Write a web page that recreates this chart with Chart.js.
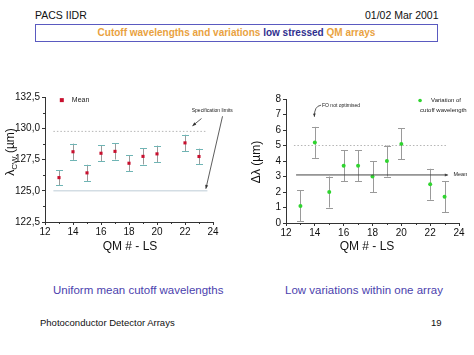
<!DOCTYPE html>
<html><head><meta charset="utf-8">
<script src="https://cdn.jsdelivr.net/npm/chart.js@4"></script>
<style>
body{margin:0;width:474px;height:355px;background:#fff;position:relative;overflow:hidden;font-family:"Liberation Sans",Arial,sans-serif}
.abs{position:absolute;white-space:nowrap}
canvas{position:absolute}
</style></head><body>
<div class="abs" style="left:35px;top:9px;font-size:10.5px;color:#111">PACS IIDR</div>
<div class="abs" style="left:365px;top:9px;font-size:10.5px;color:#111">01/02 Mar 2001</div>
<div class="abs" style="left:35px;top:24px;width:401px;height:16px;border:1px solid #5a5ac0;text-align:center;font-weight:bold;font-size:10px;line-height:16px">
<span style="color:#e9a23f">Cutoff wavelengths and variations</span> <span style="color:#2f2f8f">low stressed</span> <span style="color:#e9a23f">QM arrays</span></div>
<canvas id="c1" style="left:0;top:85px" width="240" height="175"></canvas>
<canvas id="c2" style="left:240px;top:85px" width="234" height="175"></canvas>
<div class="abs" style="left:53px;top:284px;font-size:11.5px;color:#4b3fae">Uniform mean cutoff wavelengths</div>
<div class="abs" style="left:285px;top:284px;font-size:11.5px;color:#4b3fae">Low variations within one array</div>
<div class="abs" style="left:40px;top:317px;font-size:9.5px;color:#111">Photoconductor Detector Arrays</div>
<div class="abs" style="left:431px;top:317px;font-size:9.5px;color:#111">19</div>
<script>
// ---- data ----
const qm = [13, 14, 15, 16, 17, 18, 19, 20, 22, 23];
const meanCutoff = [126.05, 128.12, 126.43, 128.0, 128.15, 127.2, 127.75, 127.95, 128.83, 127.74];
const meanCutoffErr = [0.6, 0.65, 0.65, 0.64, 0.65, 0.64, 0.65, 0.66, 0.65, 0.63];
const specUpper = 129.75;
const specLower = 125.0;
const specRange = [12.6, 23.6];
const variation = [1.1, 5.2, 2.0, 3.7, 3.7, 3.0, 4.0, 5.1, 2.5, 1.7];
const variationErr = [1.0, 1.0, 1.0, 1.0, 1.0, 1.0, 1.0, 1.0, 1.0, 1.0];
const variationLimit = 5.0;
const limitRange = [12.55, 23.2];
const variationMean = 3.1;
const meanRange = [12.7, 23.2];
const xTicksRange = [12, 24];
const leftYRange = [122.5, 132.5];
const rightYRange = [0, 8];

const FAM = '"Liberation Sans", Arial, sans-serif';

function errPlugin(id) {
  return {
    id: id,
    beforeDatasetsDraw(chart) {
      const o = chart.options.plugins[id];
      const xs = chart.scales.x, ys = chart.scales.y, ctx = chart.ctx;
      ctx.save();
      ctx.lineWidth = 1;
      o.x.forEach((xv, i) => {
        const px = Math.round(xs.getPixelForValue(xv)) + 0.5;
        const t = ys.getPixelForValue(o.y[i] + o.err[i]);
        const b = ys.getPixelForValue(o.y[i] - o.err[i]);
        ctx.strokeStyle = o.color;
        ctx.beginPath(); ctx.moveTo(px, t); ctx.lineTo(px, b); ctx.stroke();
        ctx.strokeStyle = o.capColor;
        ctx.beginPath();
        ctx.moveTo(px - 3.5, Math.round(t) + 0.5); ctx.lineTo(px + 3.5, Math.round(t) + 0.5);
        ctx.moveTo(px - 3.5, Math.round(b) + 0.5); ctx.lineTo(px + 3.5, Math.round(b) + 0.5);
        ctx.stroke();
      });
      ctx.restore();
    }
  };
}

function minorPlugin(id) {
  return {
    id: id,
    afterDraw(chart) {
      const o = chart.options.plugins[id];
      const xs = chart.scales.x, ys = chart.scales.y, ctx = chart.ctx, a = chart.chartArea;
      ctx.save(); ctx.strokeStyle = '#333'; ctx.lineWidth = 1;
      ctx.beginPath();
      o.xMinor.forEach(v => { const p = Math.round(xs.getPixelForValue(v)) + 0.5; ctx.moveTo(p, a.bottom); ctx.lineTo(p, a.bottom + 2); });
      o.yMinor.forEach(v => { const p = Math.round(ys.getPixelForValue(v)) + 0.5; ctx.moveTo(a.left, p); ctx.lineTo(a.left - 2, p); });
      ctx.stroke(); ctx.restore();
    }
  };
}

function arrowHead(ctx, x1, y1, x2, y2, size) {
  const ang = Math.atan2(y2 - y1, x2 - x1);
  ctx.beginPath();
  ctx.moveTo(x2, y2);
  ctx.lineTo(x2 - size * Math.cos(ang - 0.4), y2 - size * Math.sin(ang - 0.4));
  ctx.lineTo(x2 - size * Math.cos(ang + 0.4), y2 - size * Math.sin(ang + 0.4));
  ctx.closePath(); ctx.fill();
}

function scaleOpts(min, max, step, fmt, width, height) {
  return {
    x: {
      type: 'linear', min: xTicksRange[0], max: xTicksRange[1],
      ticks: { stepSize: 2, font: { size: 10, family: FAM }, color: '#111', padding: 1, maxRotation: 0 },
      grid: { display: true, drawOnChartArea: false, drawTicks: true, tickLength: 3, color: '#333' },
      border: { display: true, color: '#333', width: 1 },
      afterFit(s) { s.height = height; }
    },
    y: {
      type: 'linear', min: min, max: max,
      ticks: { stepSize: step, font: { size: 10, family: FAM }, color: '#111', padding: 2, callback: fmt },
      grid: { display: true, drawOnChartArea: false, drawTicks: true, tickLength: 3, color: '#333' },
      border: { display: true, color: '#333', width: 1 },
      afterFit(s) { s.width = width; }
    }
  };
}

// ---- left chart ----
new Chart(document.getElementById('c1'), {
  type: 'scatter',
  data: {
    datasets: [
      { data: [{ x: specRange[0], y: specUpper }, { x: specRange[1], y: specUpper }], showLine: true, borderColor: '#b5b5b5', borderDash: [1.5, 2], borderWidth: 1, pointRadius: 0 },
      { data: [{ x: specRange[0], y: specLower }, { x: specRange[1], y: specLower }], showLine: true, borderColor: '#d3dde4', borderWidth: 1.5, pointRadius: 0 },
      { data: qm.map((x, i) => ({ x: x, y: meanCutoff[i] })), pointStyle: 'rect', pointRadius: 2.2, backgroundColor: '#c8102e', borderWidth: 0 }
    ]
  },
  options: {
    responsive: false, animation: false, devicePixelRatio: 1,
    layout: { padding: { left: 0, top: 12, right: 27, bottom: 0 } },
    scales: scaleOpts(leftYRange[0], leftYRange[1], 2.5, v => v.toFixed(1).replace('.', ','), 45, 38),
    plugins: {
      legend: { display: false }, tooltip: { enabled: false },
      err1: { x: qm, y: meanCutoff, err: meanCutoffErr, color: '#9a9a9a', capColor: '#6fb5b5' },
      minor1: { xMinor: [13, 15, 17, 19, 21, 23], yMinor: [123.75, 126.25, 128.75, 131.25] },
      ann1: {}
    }
  },
  plugins: [errPlugin('err1'), minorPlugin('minor1'), {
    id: 'ann1',
    afterDraw(chart) {
      const ctx = chart.ctx, xs = chart.scales.x, ys = chart.scales.y;
      const P = (x, y) => [xs.getPixelForValue(x), ys.getPixelForValue(y)];
      ctx.save();
      // legend
      ctx.fillStyle = '#c8102e';
      let p = P(13.2, 132.25); ctx.fillRect(p[0] - 2, p[1] - 2, 4, 4);
      ctx.fillStyle = '#222'; ctx.font = '7px ' + FAM; ctx.textBaseline = 'middle';
      ctx.fillText('Mean', p[0] + 10, p[1]);
      // spec label
      ctx.font = '5px ' + FAM; ctx.textAlign = 'center';
      p = P(23.95, 131.4); ctx.fillText('Specification limits', p[0], p[1]);
      ctx.strokeStyle = '#333'; ctx.fillStyle = '#333'; ctx.lineWidth = 0.8;
      let a = P(23.18, 130.78), b = P(22.53, 130.19);
      ctx.beginPath(); ctx.moveTo(a[0], a[1]); ctx.lineTo(b[0], b[1]); ctx.stroke(); arrowHead(ctx, a[0], a[1], b[0], b[1], 4);
      a = P(24.68, 130.96); b = P(23.49, 125.16);
      ctx.beginPath(); ctx.moveTo(a[0], a[1]); ctx.lineTo(b[0], b[1]); ctx.stroke(); arrowHead(ctx, a[0], a[1], b[0], b[1], 4);
      // axis titles
      ctx.fillStyle = '#111'; ctx.textAlign = 'left'; ctx.textBaseline = 'alphabetic';
      ctx.translate(14, 67); ctx.rotate(-Math.PI / 2);
      ctx.font = '12px ' + FAM; const w1 = ctx.measureText('λ').width;
      ctx.font = '8px ' + FAM; const w2 = ctx.measureText('CW').width;
      ctx.font = '12px ' + FAM; const w3 = ctx.measureText(' (µm)').width;
      let x0 = -(w1 + w2 + w3) / 2;
      ctx.fillText('λ', x0, 0); x0 += w1;
      ctx.font = '8px ' + FAM; ctx.fillText('CW', x0, 3); x0 += w2;
      ctx.font = '12px ' + FAM; ctx.fillText(' (µm)', x0, 0);
      ctx.setTransform(1, 0, 0, 1, 0, 0);
      ctx.font = '12px ' + FAM; ctx.textAlign = 'center'; ctx.textBaseline = 'middle';
      ctx.fillText('QM # - LS', 130, 162);
      ctx.restore();
    }
  }]
});

// ---- right chart ----
new Chart(document.getElementById('c2'), {
  type: 'scatter',
  data: {
    datasets: [
      { data: [{ x: limitRange[0], y: variationLimit }, { x: limitRange[1], y: variationLimit }], showLine: true, borderColor: '#b5b5b5', borderDash: [1.5, 2], borderWidth: 1, pointRadius: 0 },
      { data: [{ x: meanRange[0], y: variationMean }, { x: meanRange[1], y: variationMean }], showLine: true, borderColor: '#444', borderWidth: 1, pointRadius: 0 },
      { data: qm.map((x, i) => ({ x: x, y: variation[i] })), pointStyle: 'circle', pointRadius: 2, backgroundColor: '#2fd42f', borderWidth: 0 }
    ]
  },
  options: {
    responsive: false, animation: false, devicePixelRatio: 1,
    layout: { padding: { left: 0, top: 14, right: 15, bottom: 0 } },
    scales: scaleOpts(rightYRange[0], rightYRange[1], 1, v => String(v), 46, 37),
    plugins: {
      legend: { display: false }, tooltip: { enabled: false },
      err2: { x: qm, y: variation, err: variationErr, color: '#9a9a9a', capColor: '#9a9a9a' },
      minor2: { xMinor: [13, 15, 17, 19, 21, 23], yMinor: [] },
      ann2: {}
    }
  },
  plugins: [errPlugin('err2'), minorPlugin('minor2'), {
    id: 'ann2',
    afterDraw(chart) {
      const ctx = chart.ctx, xs = chart.scales.x, ys = chart.scales.y;
      const P = (x, y) => [xs.getPixelForValue(x), ys.getPixelForValue(y)];
      ctx.save();
      // mean arrow head + label
      ctx.fillStyle = '#444';
      let a = P(meanRange[0], variationMean), b = P(meanRange[1], variationMean);
      arrowHead(ctx, a[0], a[1], b[0] + 1, b[1], 4);
      ctx.fillStyle = '#222'; ctx.font = '5.5px ' + FAM; ctx.textBaseline = 'middle';
      ctx.fillText('Mean', b[0] + 6, b[1] - 0.5);
      // FO not optimised
      ctx.font = '5px ' + FAM;
      let t = P(14.5, 7.6); ctx.fillText('FO not optimised', t[0], t[1]);
      ctx.strokeStyle = '#333'; ctx.lineWidth = 0.8;
      let s = P(14.43, 7.6), c = P(13.95, 7.55), e = P(13.97, 6.85);
      ctx.beginPath(); ctx.moveTo(s[0], s[1]); ctx.quadraticCurveTo(c[0], c[1], e[0], e[1]); ctx.stroke();
      ctx.fillStyle = '#333'; arrowHead(ctx, c[0], c[1], e[0], e[1], 3.5);
      // legend
      ctx.fillStyle = '#2fd42f';
      let l = P(21.3, 7.9); ctx.beginPath(); ctx.arc(l[0], l[1], 1.8, 0, Math.PI * 2); ctx.fill();
      ctx.fillStyle = '#222'; ctx.font = '6px ' + FAM; ctx.textAlign = 'left';
      ctx.fillText('Variation of', l[0] + 11, l[1]);
      ctx.fillText('cutoff wavelength', l[0], l[1] + 9.5);
      // axis titles
      ctx.fillStyle = '#111'; ctx.font = '12px ' + FAM; ctx.textAlign = 'center'; ctx.textBaseline = 'middle';
      ctx.translate(17, 77); ctx.rotate(-Math.PI / 2);
      ctx.fillText('Δλ (µm)', 0, 0);
      ctx.setTransform(1, 0, 0, 1, 0, 0);
      ctx.fillText('QM # - LS', 127, 162);
      ctx.restore();
    }
  }]
});
</script>
</body></html>
